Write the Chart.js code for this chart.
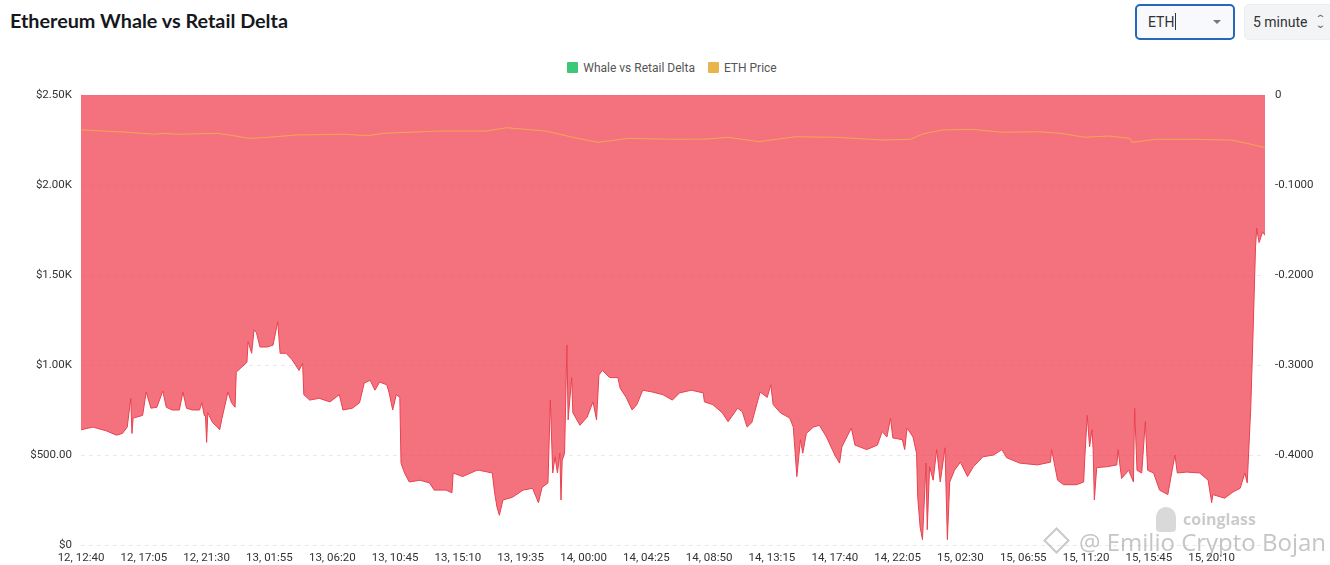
<!DOCTYPE html>
<html>
<head>
<meta charset="utf-8">
<title>Ethereum Whale vs Retail Delta</title>
<script src="https://cdn.jsdelivr.net/npm/chart.js@4.4.1/dist/chart.umd.min.js"></script>
<style>
  html, body { margin:0; padding:0; background:#fff; }
  body { width:1330px; height:565px; position:relative; overflow:hidden; font-family:Roboto, "Noto Sans", sans-serif; }
  .title { position:absolute; left:10px; top:8px; margin:0; font:700 19.8px Lato, "Open Sans", sans-serif; color:#16181d; }
  .sel { position:absolute; top:4px; height:36px; box-sizing:border-box; border-radius:5px; font-size:14px; color:#333; line-height:32px; }
  .sel.coin { left:1135px; width:100px; border:2px solid #2467bb; background:#f7f9fc; padding-left:11px; }
  .sel.coin .cur { display:inline-block; width:1px; height:17px; background:#333; vertical-align:-3px; margin-left:1px; }
  .sel.coin .arr { position:absolute; right:12px; top:14px; width:0; height:0; border-left:4px solid transparent; border-right:4px solid transparent; border-top:4px solid #777; }
  .sel.gran { left:1244px; width:100px; border:1px solid #eceef1; background:#f2f4f6; padding-left:8px; line-height:34px; }
  .sel.gran .chev { position:absolute; left:71px; top:11px; font-size:10px; color:#666; line-height:6px; transform:scaleX(1.3); }
  .legend { position:absolute; top:61px; left:7px; width:1330px; text-align:center; font-size:12px; color:#555; }
  .legend span { display:inline-block; margin:0 5px; }
  .legend i { display:inline-block; width:11px; height:11px; margin-right:5px; vertical-align:-1px; border-radius:1px; }
  canvas { position:absolute; left:0; top:0; }
  .wm1 { position:absolute; left:1183px; top:508px; font:700 16px "Open Sans", sans-serif; color:rgba(160,160,160,.55); }
  .wm1 b { position:absolute; left:-27px; top:-1px; width:20px; height:25px; border-radius:10px 10px 4px 4px; background:rgba(170,170,170,.45); }
  .wm2 { position:absolute; left:1043px; top:525px; font:400 24px "Open Sans", sans-serif; color:rgba(150,150,150,.55); white-space:nowrap; }
  .wm2 b { display:inline-block; width:15px; height:15px; border:2px solid rgba(150,150,150,.5); transform:rotate(45deg); margin:0 13px 0 4px; vertical-align:1px; }
</style>
</head>
<body>
<h1 class="title">Ethereum Whale vs Retail Delta</h1>
<div class="sel coin">ETH<span class="cur"></span><span class="arr"></span></div>
<div class="sel gran">5 minute<span class="chev">&#8963;<br>&#8964;</span></div>
<div class="legend">
  <span><i style="background:#3cc878"></i>Whale vs Retail Delta</span>
  <span><i style="background:#e9b44c"></i>ETH Price</span>
</div>
<canvas id="c" width="1330" height="565"></canvas>
<div class="wm1"><b></b>coinglass</div>
<div class="wm2"><b></b>@ Emilio Crypto Bojan</div>

<script>
// x = index of the 5-minute bar (0 = 12, 12:40 ... 999 = last bar)
const STEP = 53; // one axis label every 53 bars

const tickLabels = [
  '12, 12:40','12, 17:05','12, 21:30','13, 01:55','13, 06:20','13, 10:45','13, 15:10',
  '13, 19:35','14, 00:00','14, 04:25','14, 08:50','14, 13:15','14, 17:40','14, 22:05',
  '15, 02:30','15, 06:55','15, 11:20','15, 15:45','15, 20:10'
];

// whale vs retail delta, [bar, value]
const deltaPts = [
  [0,-0.372],[10,-0.369],[21,-0.373],[30,-0.378],[35,-0.376],[39,-0.369],[42,-0.337],[43,-0.376],
  [44,-0.359],[52,-0.356],[55,-0.330],[59,-0.348],[64,-0.347],[69,-0.329],[72,-0.347],[77,-0.350],
  [83,-0.350],[86,-0.330],[89,-0.348],[94,-0.350],[100,-0.350],[102,-0.342],[104,-0.356],[105,-0.356],
  [106,-0.386],[107,-0.353],[111,-0.364],[115,-0.369],[117,-0.372],[119,-0.359],[124,-0.330],[127,-0.342],
  [130,-0.347],[131,-0.308],[135,-0.303],[140,-0.297],[141,-0.274],[144,-0.287],[146,-0.261],[148,-0.264],
  [151,-0.280],[157,-0.280],[162,-0.278],[166,-0.252],[168,-0.287],[173,-0.287],[178,-0.294],[184,-0.306],
  [187,-0.298],[188,-0.333],[193,-0.339],[201,-0.337],[210,-0.341],[218,-0.333],[221,-0.350],[229,-0.348],
  [235,-0.342],[239,-0.320],[244,-0.317],[248,-0.328],[252,-0.319],[258,-0.322],[260,-0.331],[263,-0.350],
  [266,-0.333],[269,-0.336],[270,-0.409],[273,-0.420],[277,-0.430],[286,-0.428],[294,-0.431],[298,-0.439],
  [308,-0.439],[313,-0.442],[314,-0.420],[322,-0.424],[334,-0.417],[336,-0.417],[347,-0.420],[349,-0.442],
  [351,-0.458],[353,-0.467],[356,-0.450],[364,-0.447],[373,-0.439],[381,-0.437],[386,-0.453],[389,-0.436],
  [394,-0.431],[396,-0.339],[398,-0.420],[400,-0.402],[402,-0.420],[404,-0.398],[405,-0.450],[406,-0.406],
  [408,-0.398],[410,-0.278],[411,-0.361],[414,-0.314],[415,-0.353],[421,-0.367],[427,-0.358],[432,-0.341],
  [435,-0.361],[437,-0.311],[440,-0.306],[446,-0.314],[453,-0.314],[455,-0.326],[460,-0.336],[465,-0.350],
  [469,-0.344],[474,-0.328],[482,-0.330],[491,-0.333],[499,-0.339],[505,-0.331],[515,-0.328],[525,-0.331],
  [526,-0.341],[533,-0.344],[541,-0.353],[546,-0.363],[554,-0.348],[558,-0.352],[562,-0.369],[566,-0.364],
  [573,-0.330],[579,-0.336],[582,-0.322],[584,-0.344],[590,-0.353],[598,-0.359],[601,-0.369],[604,-0.424],
  [607,-0.383],[609,-0.398],[612,-0.376],[618,-0.369],[623,-0.367],[629,-0.380],[636,-0.400],[640,-0.409],
  [642,-0.391],[650,-0.370],[653,-0.389],[663,-0.394],[672,-0.389],[676,-0.374],[680,-0.380],[683,-0.359],
  [685,-0.381],[693,-0.383],[695,-0.394],[697,-0.370],[702,-0.380],[705,-0.398],[706,-0.447],[708,-0.480],
  [710,-0.494],[713,-0.409],[714,-0.483],[716,-0.413],[719,-0.428],[722,-0.394],[725,-0.430],[729,-0.392],
  [731,-0.494],[733,-0.430],[737,-0.417],[742,-0.408],[748,-0.424],[753,-0.413],[761,-0.402],[770,-0.400],
  [777,-0.394],[781,-0.403],[792,-0.409],[807,-0.411],[818,-0.408],[819,-0.394],[824,-0.428],[829,-0.433],
  [840,-0.433],[846,-0.430],[847,-0.402],[849,-0.356],[851,-0.391],[853,-0.372],[854,-0.394],[855,-0.450],
  [857,-0.414],[866,-0.413],[874,-0.411],[875,-0.394],[878,-0.426],[884,-0.417],[888,-0.430],[889,-0.348],
  [891,-0.417],[895,-0.420],[898,-0.363],[900,-0.417],[905,-0.420],[910,-0.439],[917,-0.444],[923,-0.400],
  [925,-0.420],[933,-0.419],[944,-0.420],[951,-0.428],[954,-0.453],[955,-0.444],[965,-0.448],[972,-0.441],
  [978,-0.437],[982,-0.420],[984,-0.431],[987,-0.347],[989,-0.261],[991,-0.169],[992,-0.148],[994,-0.164],
  [997,-0.152],[999,-0.156]
];

// ETH price in USD, [bar, price]
const pricePts = [
  [0,2306],[37,2294],[62,2282],[69,2287],[82,2282],[115,2287],[129,2274],[142,2259],[158,2265],
  [182,2278],[222,2282],[242,2274],[255,2287],[302,2300],[342,2300],[359,2318],[392,2300],[415,2265],
  [436,2237],[462,2259],[499,2254],[527,2255],[546,2265],[572,2241],[603,2268],[637,2265],[677,2250],
  [700,2254],[710,2283],[727,2306],[752,2309],[777,2293],[807,2296],[827,2287],[847,2265],[867,2272],
  [885,2259],[887,2237],[907,2254],[937,2254],[970,2250],[984,2231],[999,2208]
];

const tickFont = { family:'Roboto, sans-serif', size:11.5 };

function usd(v){
  if (v === 0) return '$0';
  if (v >= 1000) return '$' + (v/1000).toFixed(2) + 'K';
  return '$' + v.toFixed(2);
}

new Chart(document.getElementById('c').getContext('2d'), {
  type: 'line',
  data: {
    datasets: [
      {
        label: 'ETH Price',
        data: pricePts.map(([x,y]) => ({ x, y })),
        yAxisID: 'y',
        borderColor: 'rgba(240,178,72,0.85)',
        borderWidth: 1,
        pointRadius: 0,
        fill: false,
        order: 1
      },
      {
        label: 'Whale vs Retail Delta',
        data: deltaPts.map(([x,y]) => ({ x, y })),
        yAxisID: 'y1',
        borderColor: '#e8414f',
        backgroundColor: 'rgba(240,65,80,0.74)',
        borderWidth: 1,
        pointRadius: 0,
        fill: 'end',
        order: 2
      }
    ]
  },
  options: {
    responsive: false,
    animation: false,
    layout: { padding: { top: 95, left: 0, right: 0, bottom: 0 } },
    plugins: { legend: { display:false }, tooltip: { enabled:false } },
    elements: { line: { tension: 0 } },
    scales: {
      x: {
        type: 'linear',
        min: 0, max: 999,
        grid: { display:false, drawTicks:false },
        border: { display:false },
        afterBuildTicks: axis => { axis.ticks = tickLabels.map((_, k) => ({ value: k*STEP })); },
        afterFit: axis => { axis.height = 20; },
        ticks: {
          autoSkip: false, maxRotation: 0, padding: 6,
          color: '#333', font: tickFont,
          callback: v => tickLabels[Math.round(v/STEP)]
        }
      },
      y: {
        position: 'left',
        min: 0, max: 2500,
        afterFit: axis => { axis.width = 81; },
        grid: { color:'#e9e9e9', drawTicks:false },
        border: { display:false, dash:[4,4] },
        ticks: { stepSize: 500, padding: 9, color:'#333', font: tickFont, callback: v => usd(v) }
      },
      y1: {
        position: 'right',
        min: -0.5, max: 0,
        afterFit: axis => { axis.width = 65; },
        grid: { display:false, drawTicks:false },
        border: { display:false },
        ticks: {
          stepSize: 0.1, padding: 10, color:'#333', font: tickFont,
          callback: v => v === 0 ? '0' : (v <= -0.5 ? null : v.toFixed(4))
        }
      }
    }
  }
});
</script>
</body>
</html>
